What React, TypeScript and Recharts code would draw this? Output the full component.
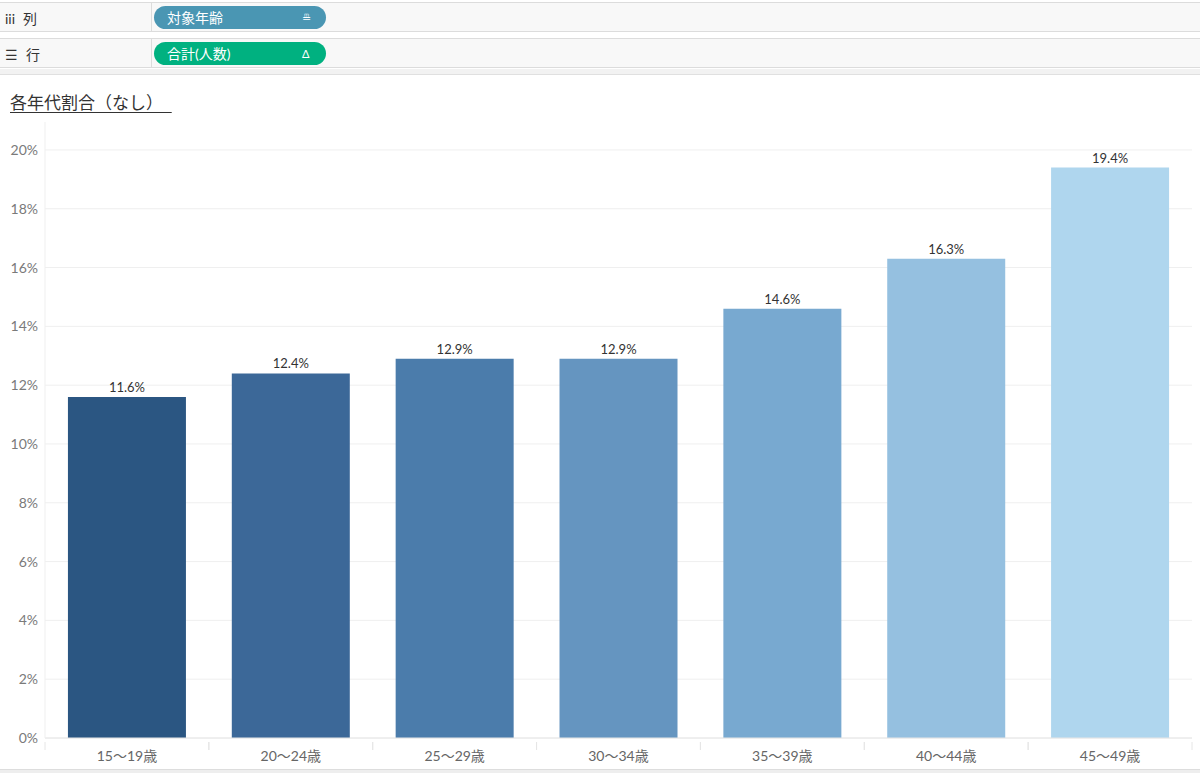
import React from "react";
import { BarChart, Bar, XAxis, YAxis, CartesianGrid, Cell, LabelList } from "recharts";

const categories = ["15～19歳", "20～24歳", "25～29歳", "30～34歳", "35～39歳", "40～44歳", "45～49歳"];
const shares = [11.6, 12.4, 12.9, 12.9, 14.6, 16.3, 19.4];
const barColors = ["#2b5682", "#3c6898", "#4b7cab", "#6595c0", "#78a9d0", "#95c0e0", "#afd6ee"];
const yTicks = [0, 2, 4, 6, 8, 10, 12, 14, 16, 18, 20];

const data = categories.map((c, i) => ({ name: c, value: shares[i] }));

const FONT = "Lato, 'Noto Sans CJK JP', sans-serif";

const XTick = (props: any) => {
  const { x, y, payload } = props;
  const half = payload && payload.offset ? payload.offset : 1147 / 14;
  return (
    <g>
      <line x1={x - half} x2={x - half} y1={y - 4} y2={y + 4} stroke="#e6e6e6" />
      <line x1={x + half} x2={x + half} y1={y - 4} y2={y + 4} stroke="#e6e6e6" />
      <text x={x} y={y + 15} textAnchor="middle" fill="#666" fontSize={14} fontFamily={FONT}>
        {payload.value}
      </text>
    </g>
  );
};

const shelfRow = (top: number, icon: string, label: string, pill: string, pillColor: string, pillIcon: string) => (
  <div style={{ position: "absolute", top, left: 0, width: 1200, height: 30, background: "#f8f8f8", borderTop: "1px solid #dcdcdc", borderBottom: "1px solid #dcdcdc", boxSizing: "border-box" }}>
    <div style={{ position: "absolute", left: 5, top: 5, fontSize: 14, color: "#333", fontFamily: FONT }}>
      <span style={{ marginRight: 8 }}>{icon}</span>{label}
    </div>
    <div style={{ position: "absolute", left: 151, top: 0, width: 1, height: 29, background: "#dcdcdc" }} />
    <div style={{ position: "absolute", left: 154, top: 3, width: 172, height: 23, borderRadius: 12, background: pillColor, color: "#fff", fontSize: 14, fontFamily: FONT, lineHeight: "23px" }}>
      <span style={{ position: "absolute", left: 13 }}>{pill}</span>
      <span style={{ position: "absolute", left: 148, fontSize: 11 }}>{pillIcon}</span>
    </div>
  </div>
);

export default function App() {
  return (
    <div style={{ position: "fixed", left: 0, top: 0, width: 1200, height: 773, background: "#fff", overflow: "hidden" }}>
      {shelfRow(2, "iii", "列", "対象年齢", "#4a96b3", "≞")}
      {shelfRow(38, "☰", "行", "合計(人数)", "#00b180", "Δ")}
      <div style={{ position: "absolute", top: 69, left: 0, width: 1200, height: 6, background: "#f2f2f2", borderBottom: "1px solid #e0e0e0", boxSizing: "border-box" }} />
      <div style={{ position: "absolute", top: 89, left: 10, fontSize: 17, color: "#333", fontFamily: FONT, textDecoration: "underline", textUnderlineOffset: 3, whiteSpace: "pre" }}>
        {"各年代割合（なし）\u00a0\u00a0"}
      </div>
      <div style={{ position: "absolute", top: 0, left: 0 }}>
        <BarChart width={1200} height={773} data={data} margin={{ top: 122, right: 8, left: 0, bottom: 0 }} barCategoryGap="14%">
          <CartesianGrid vertical={false} stroke="#efefef" syncWithTicks />
          <XAxis dataKey="name" height={35} axisLine={{ stroke: "#e6e6e6" }} tickLine={false} tick={<XTick />} interval={0} />
          <YAxis
            width={45}
            domain={[0, 20.95]}
            ticks={yTicks}
            allowDataOverflow
            tickFormatter={(v: number) => `${v}%`}
            axisLine={{ stroke: "#efefef" }}
            tickLine={false}
            tickSize={0}
            tickMargin={7}
            tick={{ fill: "#7a7a7a", fontSize: 14, fontFamily: FONT }}
          />
          <Bar dataKey="value" isAnimationActive={false}>
            {data.map((d, i) => (
              <Cell key={d.name} fill={barColors[i]} />
            ))}
            <LabelList dataKey="value" position="top" offset={5} formatter={(v: any) => `${v}%`} fill="#333" fontSize={13} fontFamily={FONT} />
          </Bar>
        </BarChart>
      </div>
      <div style={{ position: "absolute", top: 769, left: 0, width: 1200, height: 4, background: "#eee", borderTop: "1px solid #ddd" }} />
    </div>
  );
}
